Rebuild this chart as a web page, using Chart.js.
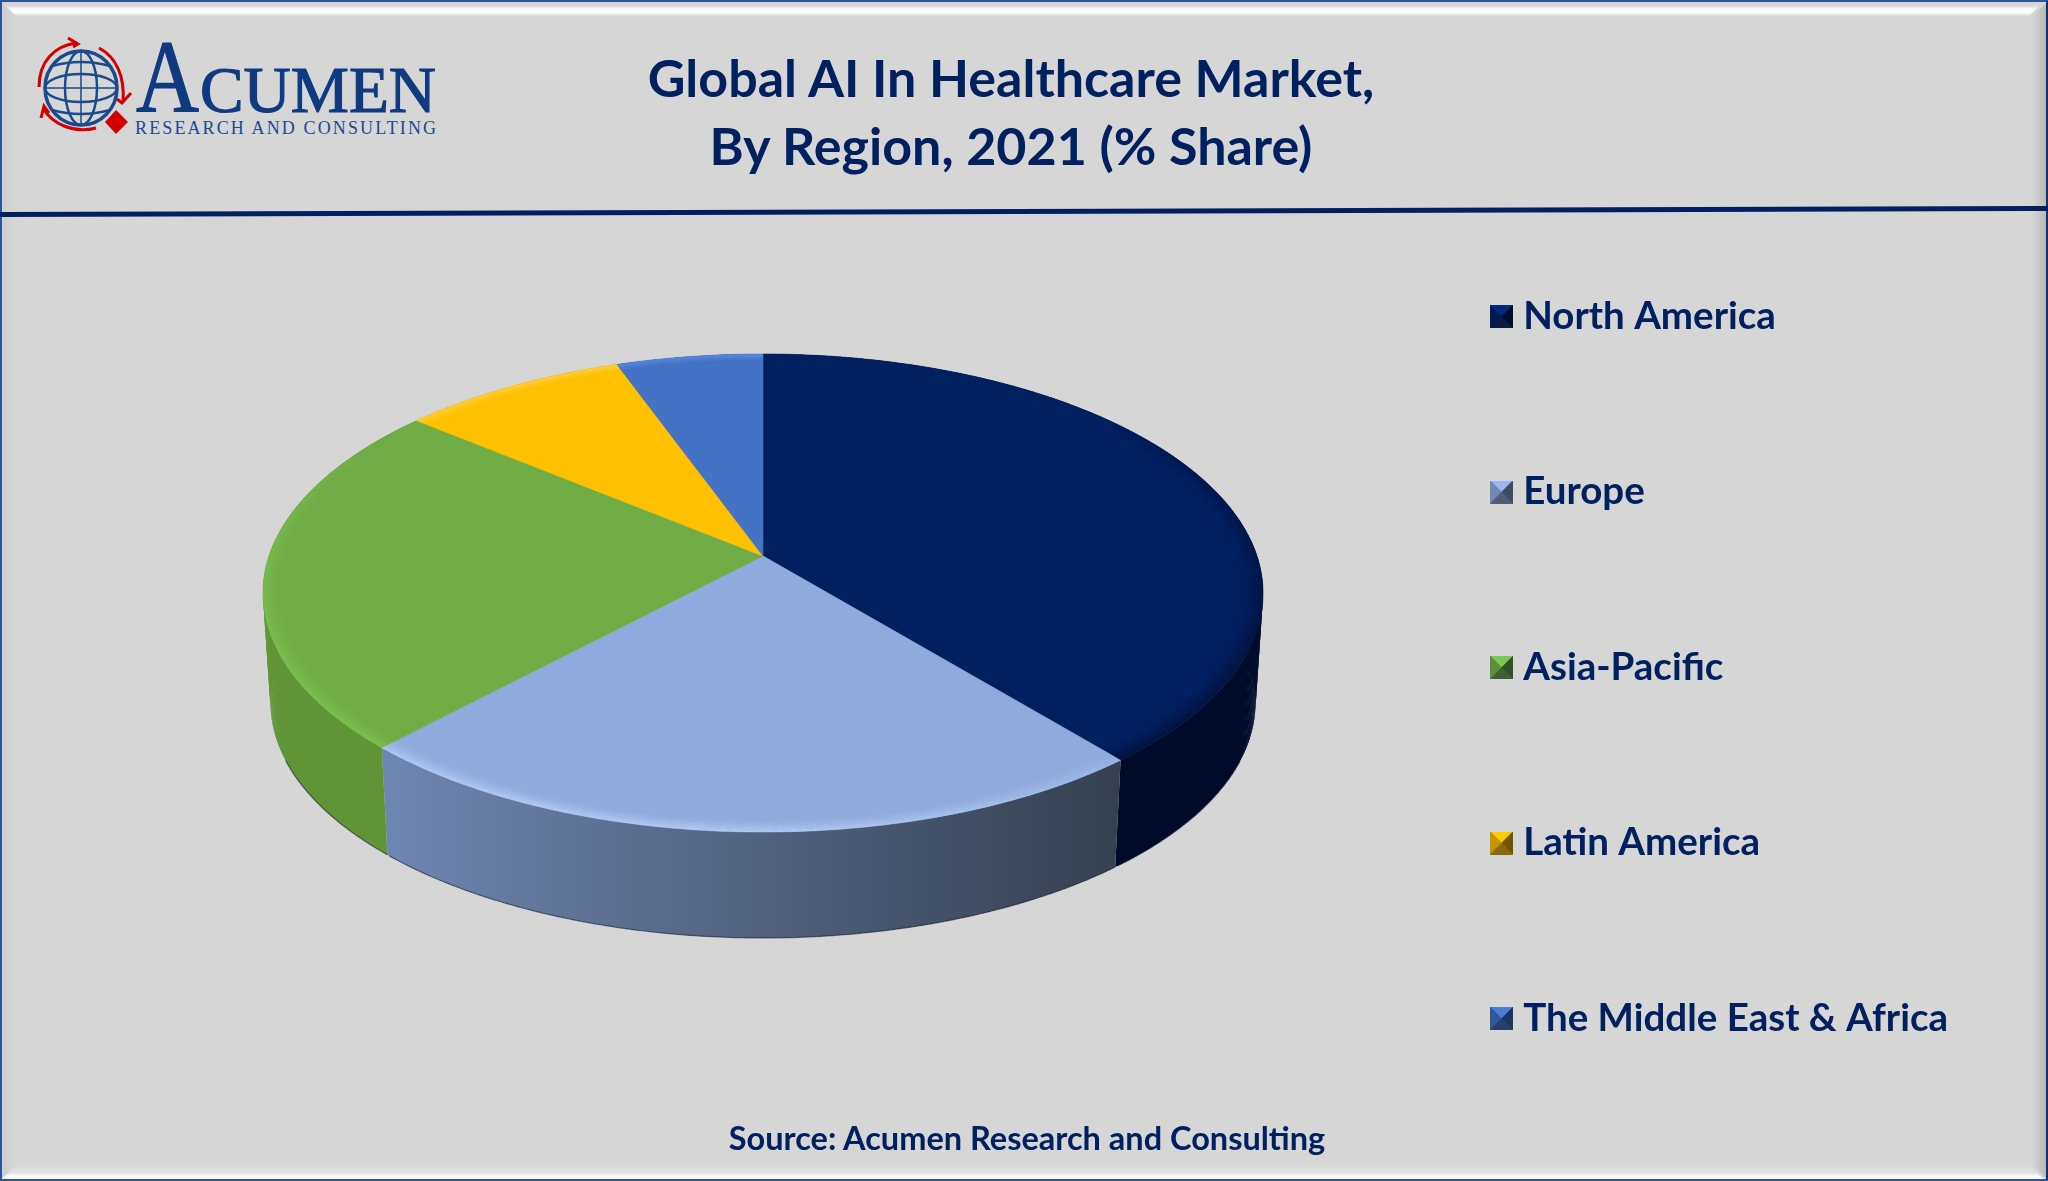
<!DOCTYPE html>
<html>
<head>
<meta charset="utf-8">
<title>Global AI In Healthcare Market</title>
<script src="https://cdn.jsdelivr.net/npm/chart.js@4"></script>
<style>
html, body { margin: 0; padding: 0; background: #d6d6d6; }
#page { position: relative; width: 2048px; height: 1181px; overflow: hidden; background: #d6d6d6; font-family: Lato, sans-serif; }
#page > * { position: absolute; }
#chart { left: 0; top: 0; width: 2048px; height: 1181px; }
.edge { pointer-events: none; }
#edgeTop { left: 2px; top: 2px; width: 2041px; height: 14px; background: linear-gradient(#d6d6d6 25%, #fbfbfb 50%, #fff 75%, #d8d8d8); clip-path: polygon(0 0, 100% 0, calc(100% - 14px) 100%, 14px 100%); }
#edgeRight { right: 2px; top: 3px; width: 14px; height: 1175px; background: linear-gradient(90deg, #d6d6d6, #b9b9b9); clip-path: polygon(0 14px, 100% 0, 100% 100%, 0 calc(100% - 14px)); }
#edgeBottom { left: 2px; bottom: 2px; width: 2041px; height: 16px; background: linear-gradient(#d6d6d6, #e2e2e2 60%, #fff 85%, #fff); clip-path: polygon(16px 0, calc(100% - 16px) 0, 100% 100%, 0 100%); }
#edgeLeft { left: 2px; top: 3px; width: 12px; height: 1175px; background: linear-gradient(90deg, #cfcfcf, #d6d6d6); clip-path: polygon(0 0, 100% 12px, 100% calc(100% - 12px), 0 100%); }
#frame { left: 0; top: 0; width: 2044px; height: 1177px; border: 2px solid #2f5597; border-right-color: #12306e; }
.title { left: 0; width: 2022px; text-align: center; color: #002060; font-weight: 700; font-size: 52px; line-height: 68px; white-space: pre; }
#title1 { top: 43px; }
#title2 { top: 111px; }
#source { left: 0; width: 2054px; top: 1119px; text-align: center; color: #002060; font-weight: 700; font-size: 32.5px; line-height: 38px; }
#logo, #rule { left: 0; top: 0; }
</style>
</head>
<body>
<div id="page">
  <div class="edge" id="edgeLeft"></div>
  <div class="edge" id="edgeRight"></div>
  <div class="edge" id="edgeBottom"></div>
  <div class="edge" id="edgeTop"></div>
  <div id="frame"></div>
  <svg id="rule" width="2048" height="230"><line x1="0" y1="214.5" x2="2048" y2="208.5" stroke="#002060" stroke-width="5"/></svg>
  <svg id="logo" width="460" height="150">
    <g fill="none" stroke="#1b4a8f">
      <ellipse cx="81" cy="88" rx="36" ry="37" stroke-width="3.5"/>
      <ellipse cx="81" cy="88" rx="16" ry="37" stroke-width="2.5"/>
      <ellipse cx="81" cy="88" rx="36" ry="14" stroke-width="2.5"/>
      <path d="M52 66 Q81 58 110 66 M52 110 Q81 118 110 110" stroke-width="2.5"/>
      <path d="M81 51 V125 M45 88 H117" stroke-width="1.5"/>
    </g>
    <g fill="none" stroke="#d40000" stroke-width="3">
      <path d="M39 87 C39 62 54 46 76 43"/>
      <path d="M68 38 L78 44 L73 47"/>
      <path d="M99 48 C116 57 125 76 123 102"/>
      <path d="M131 93 L122 103 L117 99"/>
      <path d="M43 108 C52 124 74 134 96 128"/>
      <path d="M41 118 L44 106 L49 113"/>
    </g>
    <polygon points="116,110 128,122 116,134 105,122" fill="#d40000"/>
    <g fill="#103a80" stroke="#103a80" stroke-width="1.2" font-family="Liberation Serif">
      <text x="136" y="112" font-size="104" textLength="63" lengthAdjust="spacingAndGlyphs">A</text>
      <text x="200" y="112" font-size="65" textLength="236" lengthAdjust="spacingAndGlyphs">CUMEN</text>
    </g>
    <text x="135" y="134" font-family="Liberation Serif" font-size="18" fill="#1b4a8f" textLength="301">RESEARCH AND CONSULTING</text>
  </svg>
  <canvas id="chart" width="2048" height="1181"></canvas>
  <div class="title" id="title1">Global AI In Healthcare Market,</div>
  <div class="title" id="title2">By Region, 2021 (% Share)</div>
  <div id="source">Source: Acumen Research and Consulting</div>
</div>
<script>
// values (% share)
const regions = ['North America', 'Europe', 'Asia-Pacific', 'Latin America', 'The Middle East & Africa'];
const shares = [39, 23, 24, 8.5, 5.5];
const sliceColors = ['#002060', '#8faadc', '#70ad47', '#ffc000', '#4472c4'];

// side wall colours, left and right end of each slice
const wallColors = [['#000d30', '#000b2a'], ['#6f86b3', '#35404f'], ['#5f9437', '#5b8f33'], ['#b08400', '#b08400'], ['#2f5597', '#2f5597']];
// bevel along the rim of the top face: colour and the direction it is strongest in
const rimColors = ['#000b2b', '#bcd6ff', '#80cc55', '#ffd040', '#5a8ae0'];
const rimAngles = [50, 125, 125, 220, 250];
// swatches: top, left, bottom, right
const swatchColors = [
    ['#002a78', '#001a55', '#0a1a40', '#000c2e'],
    ['#9ab7ef', '#7088b5', '#505c78', '#3f4a60'],
    ['#7cc653', '#5b8f3a', '#3f6030', '#33502a'],
    ['#ffcc00', '#c89500', '#8a6a10', '#705500'],
    ['#4a7fd8', '#33589a', '#263f70', '#1e3360']
];

// perspective of the pie on the page
const cx = 763, cy = 556, ax = 494, ay = 233.3, tilt = 0.155, depth = 110, shrink = 0.015;

function project(u, v, z) {
    const s = (1 - shrink * z) / (1 - tilt * v);
    return [cx + ax * u * s, cy + depth * z + ay * v * s];
}

function rimPoint(angle, r, z) {
    return project(r * Math.cos(angle), r * Math.sin(angle), z);
}

function traceTop(ctx, a0, a1, r) {
    const steps = Math.max(4, Math.ceil((a1 - a0) / 0.01));
    ctx.beginPath();
    ctx.moveTo(cx, cy);
    for (let i = 0; i <= steps; i++) {
        const p = rimPoint(a0 + (a1 - a0) * i / steps, r, 0);
        ctx.lineTo(p[0], p[1]);
    }
    ctx.closePath();
}

function drawWall(ctx, a0, a1, colors) {
    const steps = Math.max(4, Math.ceil((a1 - a0) / 0.01));
    const left = rimPoint(a1, 1, 0)[0], right = rimPoint(a0, 1, 0)[0];
    const grad = ctx.createLinearGradient(Math.min(left, right), 0, Math.max(left, right), 0);
    grad.addColorStop(0, colors[0]);
    grad.addColorStop(1, colors[1]);
    ctx.fillStyle = grad;
    // one quad per step, so the outline follows the side of the disc; they overlap to hide seams
    for (let i = 0; i < steps; i++) {
        const b0 = a0 + (a1 - a0) * i / steps;
        const b1 = Math.min(a1, b0 + (a1 - a0) / steps + 0.006);
        const p = [rimPoint(b0, 1, 0), rimPoint(b1, 1, 0), rimPoint(b1, 1, 1), rimPoint(b0, 1, 1)];
        ctx.beginPath();
        ctx.moveTo(p[0][0], p[0][1]);
        for (let j = 1; j < 4; j++) ctx.lineTo(p[j][0], p[j][1]);
        ctx.closePath();
        ctx.fill();
    }
}

// dark line under the front of the disc, stops short of the sides
function drawFoot(ctx, a0, a1) {
    const from = Math.max(a0, 0.4), to = Math.min(a1, 2.75);
    if (to <= from) return;
    ctx.beginPath();
    for (let a = from; a < to; a += 0.01) {
        const p = rimPoint(a, 1, 1);
        ctx.lineTo(p[0], p[1]);
    }
    ctx.strokeStyle = 'rgba(20,25,40,0.55)';
    ctx.lineWidth = 1.2;
    ctx.stroke();
}

function drawRim(ctx, a0, a1, color, centre) {
    const peak = centre * Math.PI / 180;
    ctx.save();
    traceTop(ctx, a0, a1, 1);
    ctx.clip();
    ctx.strokeStyle = color;
    ctx.lineWidth = 2.5;
    for (let ring = 0; ring < 12; ring++) {
        const r = 1 - ring * 0.004;
        const fade = Math.pow(1 - ring / 12, 2);
        for (let a = a0; a < a1; a += 0.02) {
            const strength = Math.cos(a - peak);
            if (strength <= 0) continue;
            const p = rimPoint(a, r, 0), q = rimPoint(Math.min(a + 0.021, a1), r, 0);
            ctx.globalAlpha = Math.min(1, 1.2 * strength) * fade * 0.5;
            ctx.beginPath();
            ctx.moveTo(p[0], p[1]);
            ctx.lineTo(q[0], q[1]);
            ctx.stroke();
        }
    }
    ctx.restore();
}

// the arcs get their angles from the pie controller, only the drawing is replaced
const pie3d = {
    id: 'pie3d',
    beforeDatasetDraw(chart, args) {
        const ctx = chart.ctx;
        const arcs = chart.getDatasetMeta(args.index).data;
        ctx.save();
        arcs.forEach((arc, i) => drawWall(ctx, arc.startAngle, arc.endAngle, wallColors[i]));
        arcs.forEach(arc => drawFoot(ctx, arc.startAngle, arc.endAngle));
        arcs.forEach((arc, i) => {
            traceTop(ctx, arc.startAngle, arc.endAngle, 1);
            ctx.fillStyle = sliceColors[i];
            ctx.fill();
            ctx.strokeStyle = sliceColors[i];
            ctx.lineWidth = 0.6;
            ctx.stroke();
        });
        arcs.forEach((arc, i) => drawRim(ctx, arc.startAngle, arc.endAngle, rimColors[i], rimAngles[i]));
        ctx.restore();
        return false;
    }
};

function makeSwatch(colors) {
    const size = 23;
    const c = document.createElement('canvas');
    c.width = c.height = size;
    const g = c.getContext('2d');
    g.fillStyle = colors[2];
    g.fillRect(0, 0, size, size);
    const corners = [[0, 0], [size, 0], [size, size], [0, size]];
    // top, right, bottom, left triangles meet in the middle
    [[0, 1, 0], [1, 2, 3], [2, 3, 2], [3, 0, 1]].forEach(t => {
        g.beginPath();
        g.moveTo(corners[t[0]][0], corners[t[0]][1]);
        g.lineTo(corners[t[1]][0], corners[t[1]][1]);
        g.lineTo(size / 2, size / 2);
        g.closePath();
        g.fillStyle = colors[t[2]];
        g.fill();
    });
    return c;
}

const swatches = swatchColors.map(makeSwatch);

new Chart(document.getElementById('chart').getContext('2d'), {
    type: 'pie',
    data: {
        labels: regions,
        datasets: [{
            data: shares,
            backgroundColor: sliceColors,
            borderWidth: 0
        }]
    },
    options: {
        responsive: false,
        animation: false,
        events: [],
        layout: { padding: { top: 154, right: 90, bottom: 0, left: 0 } },
        plugins: {
            tooltip: { enabled: false },
            legend: {
                position: 'right',
                align: 'center',
                labels: {
                    color: '#002060',
                    font: { family: 'Lato', weight: '700', size: 38.5 },
                    padding: 137,
                    boxWidth: 5,
                    usePointStyle: true,
                    generateLabels() {
                        return regions.map((name, i) => ({
                            text: name,
                            fontColor: '#002060',
                            pointStyle: swatches[i],
                            index: i
                        }));
                    }
                }
            }
        }
    },
    plugins: [pie3d]
});
</script>
</body>
</html>
